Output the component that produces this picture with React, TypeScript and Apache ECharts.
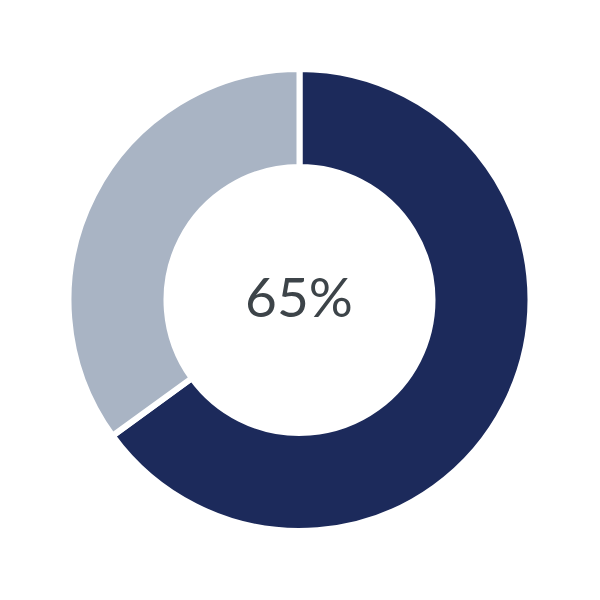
import React, { useEffect, useRef } from "react";
import * as echarts from "echarts";

const categories = ["Complete", "Remaining"];
const values = [65, 35];
const colors = ["#1c2a5b", "#a9b4c4"];
const centerLabel = "65%";

export default function App() {
  const ref = useRef<HTMLDivElement>(null);
  useEffect(() => {
    if (!ref.current) return;
    const chart = echarts.init(ref.current, null, { renderer: "svg" });
    chart.setOption({
      animation: false,
      backgroundColor: "#ffffff",
      series: [
        {
          type: "pie",
          center: [299.5, 300],
          radius: [133, 231],
          startAngle: 90,
          clockwise: true,
          label: { show: false },
          labelLine: { show: false },
          emphasis: { disabled: true },
          itemStyle: { borderColor: "#ffffff", borderWidth: 6 },
          data: categories.map((c, i) => ({
            name: c,
            value: values[i],
            itemStyle: { color: colors[i] },
          })),
        },
      ],
      graphic: [
        {
          type: "text",
          x: 299,
          y: 296,
          style: {
            text: centerLabel,
            fontFamily: "Lato",
            fontSize: 55,
            fontWeight: 400,
            fill: "#3d4449",
            textAlign: "center",
            textVerticalAlign: "middle",
          },
        },
      ],
    });
    return () => chart.dispose();
  }, []);
  return (
    <div
      ref={ref}
      style={{ position: "fixed", left: 0, top: 0, width: 600, height: 600 }}
    />
  );
}
